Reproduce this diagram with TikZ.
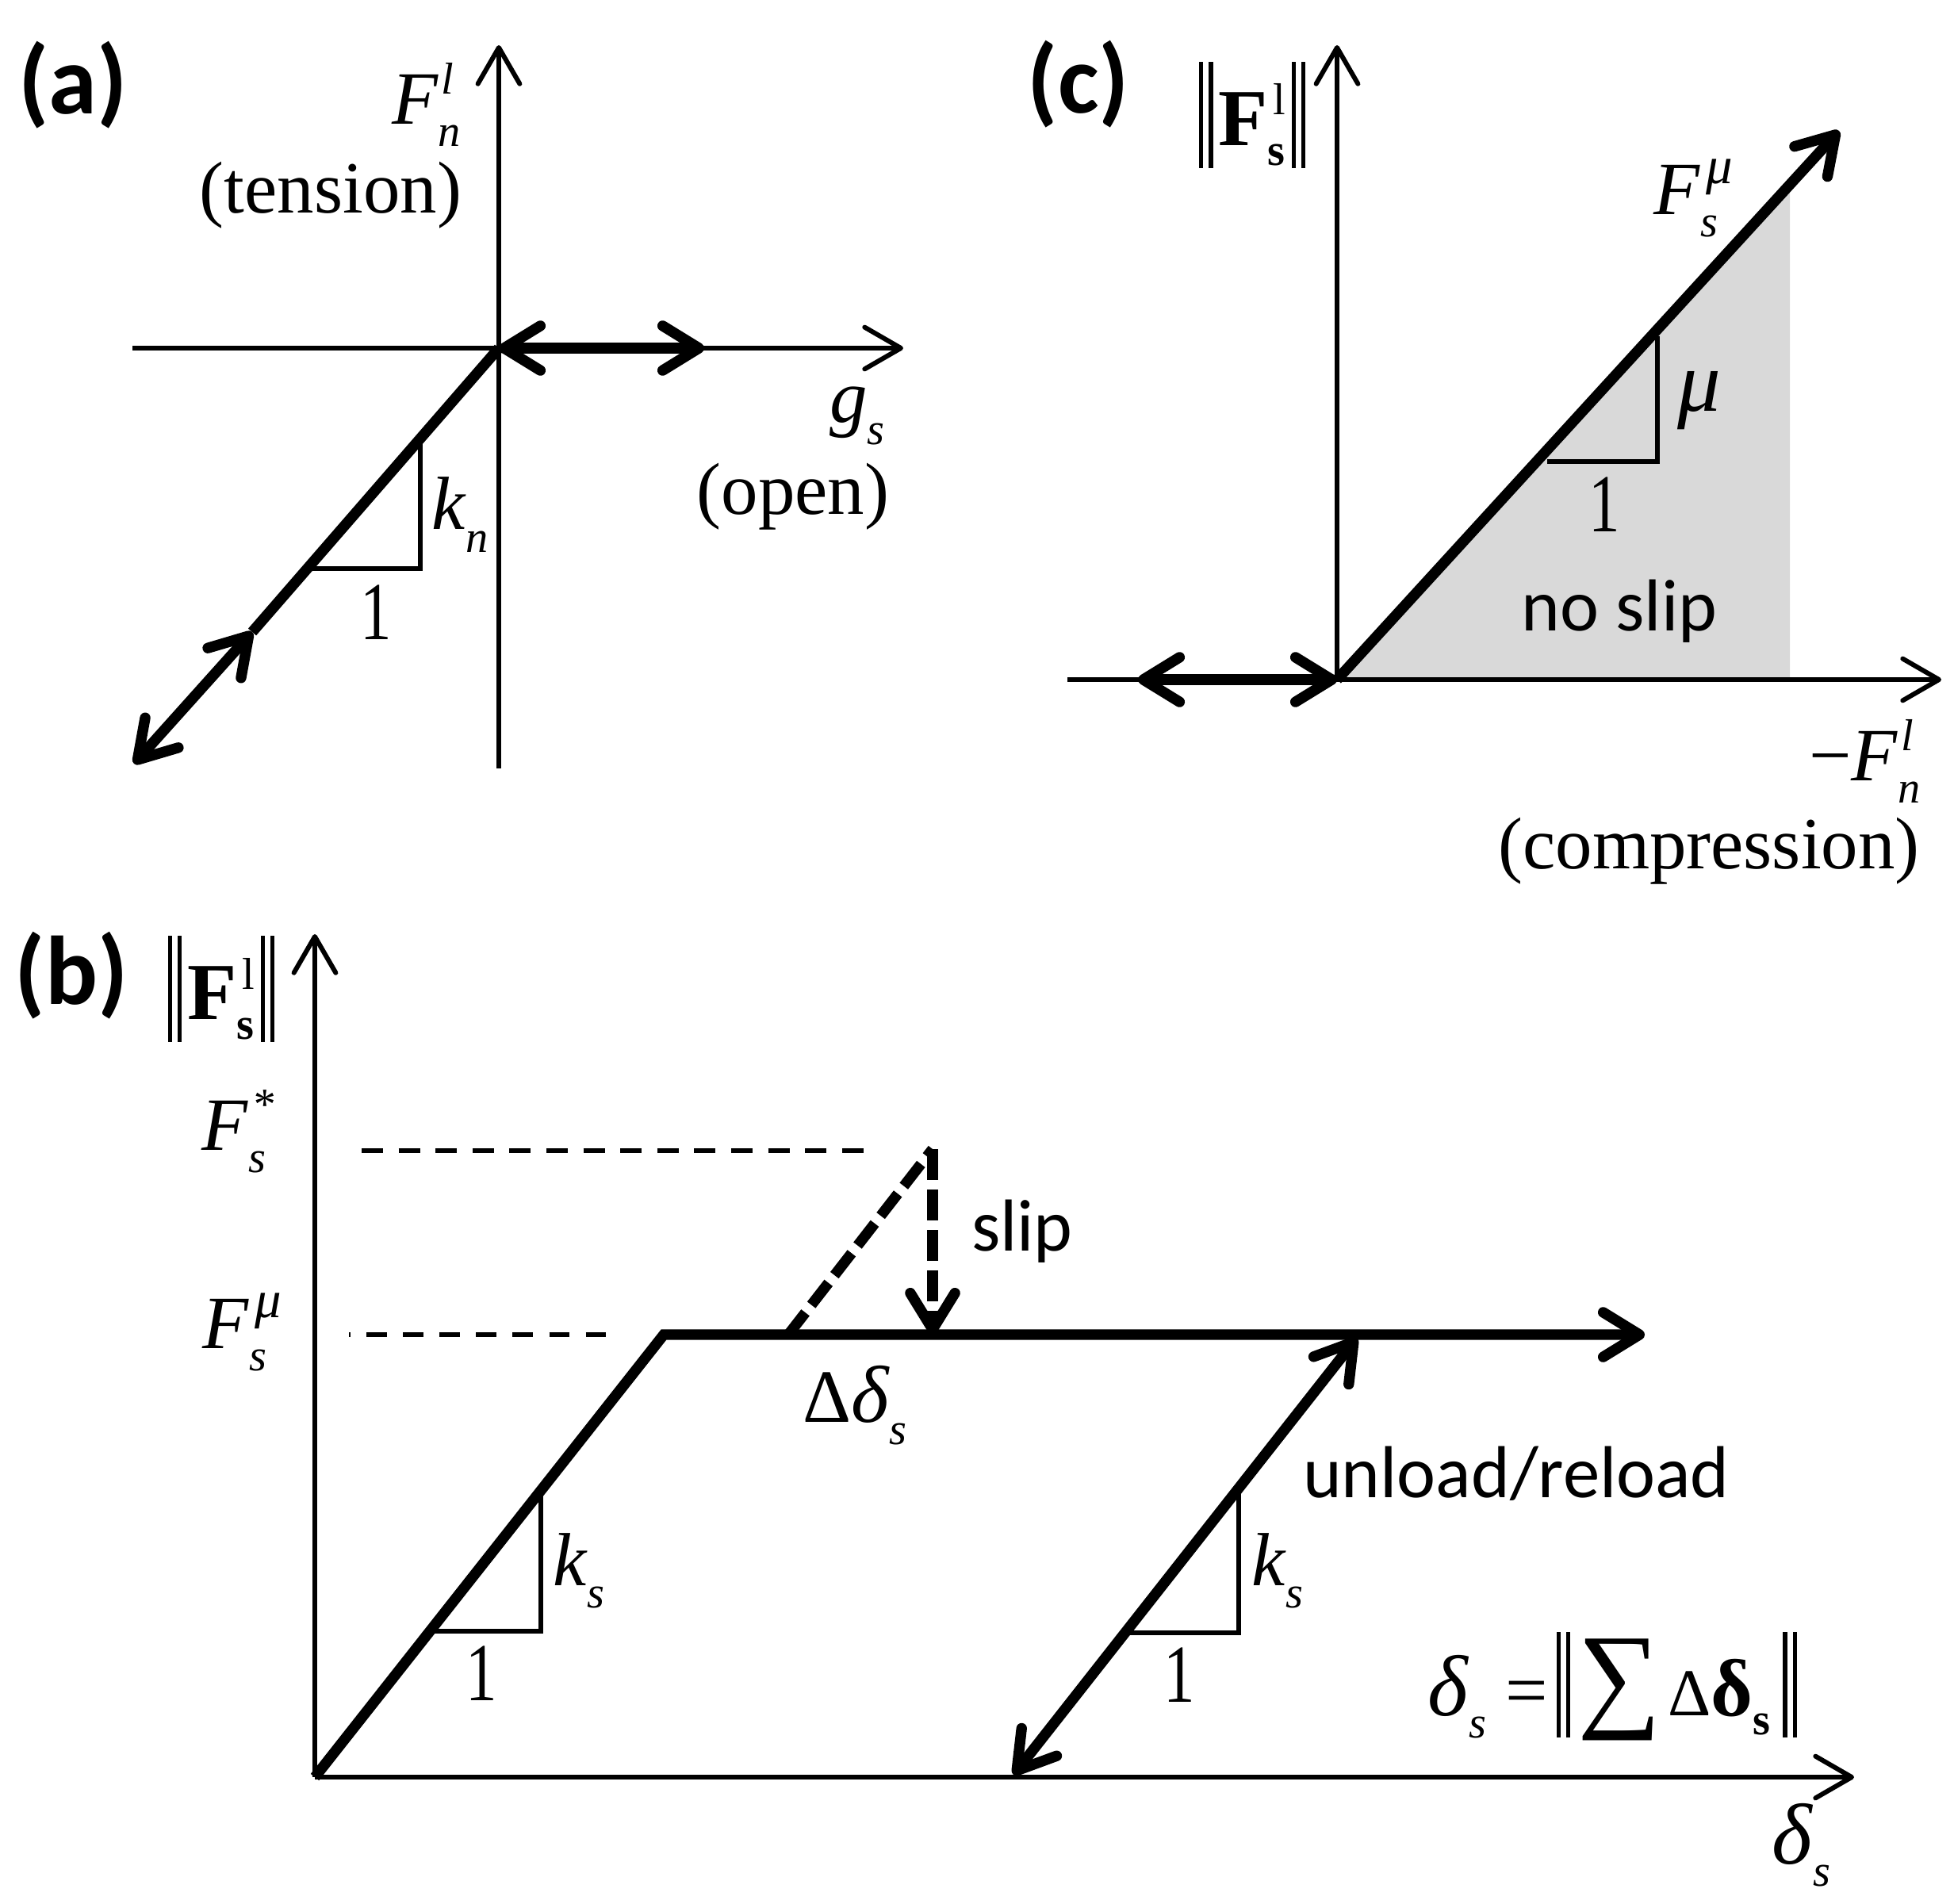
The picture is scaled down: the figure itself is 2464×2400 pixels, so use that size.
\documentclass[tikz,border=0pt]{standalone}
\usepackage{fontspec}
\setmainfont{Liberation Serif}
\newfontfamily\calibri{Carlito}
\usetikzlibrary{arrows.meta}

% letter with a subscript and a superscript
\newcommand{\smallscript}[1]{{\fontsize{16}{16}\selectfont #1}}
\newcommand{\scripts}[3]{\textit{#1}\rlap{\raisebox{-8pt}{\smallscript{\textit{#2}}}}\raisebox{11pt}{\kern1pt\smallscript{\textit{#3}}}}
\newcommand{\muscripts}{\textit{F}\rlap{\raisebox{-8pt}{\smallscript{\textit{s}}}}\raisebox{11pt}{\kern2pt{\fontsize{19}{19}\selectfont\textit{μ}}}}
\newcommand{\normbars}{\rule[-8pt]{1.5pt}{38pt}\kern2pt\rule[-8pt]{1.5pt}{38pt}}
\newcommand{\normF}{\normbars\kern2pt{\fontsize{29}{30}\selectfont\textbf{F}}\rlap{\raisebox{-7pt}{\smallscript{\textbf{s}}}}\raisebox{11pt}{\kern2pt\smallscript{l}}\kern2pt\normbars}
\newcommand{\slope}{\scalebox{.85}[1.12]{1}}
\newcommand{\bigdelta}{{\fontsize{31}{31}\selectfont\textit{δ}}}

\begin{document}
\begin{tikzpicture}[
        x=0.01cm,y=-0.01cm,
        panel/.style={inner sep=0pt,font=\calibri\bfseries\fontsize{35}{38}\selectfont},
        sans/.style={inner sep=0pt,font=\calibri\fontsize{26.4}{30}\selectfont},
        serif/.style={inner sep=0pt,font=\fontsize{26.4}{30}\selectfont},
        symb/.style={inner sep=0pt,font=\fontsize{27}{30}\selectfont},
        thin line/.style={line width=1.7pt},
        thick line/.style={line width=3.8pt},
        axis/.style={thin line,-{Straight Barb[length=13pt,width=15pt,round]}},
        load/.style={thick line,>={Straight Barb[length=13pt,width=16pt,round]}},
    ]
    \useasboundingbox (0,0) rectangle (2464,2400);

    % (a)
    \coordinate (aO) at (629,439);
    \coordinate (aL) at (167,439);
    \coordinate (aR) at (1139,439);
    \coordinate (aT) at (629,57);
    \coordinate (aB) at (629,969);
    \coordinate (aOpen) at (888,439);
    \coordinate (aMid) at (318,797);
    \coordinate (aEnd) at (169,963);
    \coordinate (aTop) at (530,556);
    \coordinate (aCor) at (530,717);
    \coordinate (aLeft) at (390,717);
    \draw[thin line] (aL) -- (aO);
    \draw[axis] (aO) -- (aR);
    \draw[axis] (aB) -- (aT);
    \draw[thin line] (aTop) -- (aCor) -- (aLeft);
    \draw[load,<->] (aO) -- (aOpen);
    \draw[load] (aO) -- (aMid);
    \draw[load,<->] (aEnd) -- (aMid);
    \node[panel] (labela) at (92,107) {(a)};
    \node[symb] (Fn) at (533,132) {\scripts{F}{n}{l}};
    \node[serif] (tension) at (417,246) {(tension)};
    \node[symb] (gs) at (1081,524) {\textit{g}\raisebox{-8pt}{\smallscript{\textit{s}}}};
    \node[serif] (open) at (1000,626) {(open)};
    \node[symb] (kn) at (580,649) {\textit{k}\raisebox{-8pt}{\smallscript{\textit{n}}}};
    \node[serif] (onea) at (474,772) {\slope};

    % (c)
    \coordinate (cO) at (1686,857);
    \coordinate (cL) at (1346,857);
    \coordinate (cR) at (2448,857);
    \coordinate (cT) at (1686,57);
    \coordinate (cEnd) at (2319,165);
    \coordinate (cShadeB) at (2257,857);
    \coordinate (cShadeT) at (2257,238);
    \coordinate (cOpen) at (1435,857);
    \coordinate (cTop) at (2090,424);
    \coordinate (cCor) at (2090,582);
    \coordinate (cLeft) at (1951,582);
    \fill[gray!30] (cO) -- (cShadeT) -- (cShadeB) -- cycle;
    \draw[axis] (cL) -- (cR);
    \draw[axis] (cO) -- (cT);
    \draw[thin line] (cTop) -- (cCor) -- (cLeft);
    \draw[load,<->] (cOpen) -- (cO);
    \draw[load,->] (cO) -- (cEnd);
    \node[panel] (labelc) at (1360,106) {(c)};
    \node[symb] (Fc) at (1579,145) {\normF};
    \node[symb] (Fmuc) at (2135,250) {\muscripts};
    \node[symb] (muc) at (2143,505) {\fontsize{31}{31}\selectfont\textit{μ}};
    \node[serif] (onec) at (2023,636) {\slope};
    \node[sans] (noslip) at (2042,771) {no slip};
    \node[symb] (Fnc) at (2347,960) {−\scripts{F}{n}{l}};
    \node[serif] (compression) at (2155,1073) {(compression)};

    % (b)
    \coordinate (bO) at (397,2241);
    \coordinate (bR) at (2338,2241);
    \coordinate (bT) at (397,1178);
    \coordinate (bCor) at (837,1683);
    \coordinate (bEnd) at (2074,1683);
    \coordinate (bPeak) at (1176,1449);
    \coordinate (bSlip) at (994,1683);
    \coordinate (bDrop) at (1176,1683);
    \coordinate (bUp) at (1711,1687);
    \coordinate (bDown) at (1278,2238);
    \coordinate (bTopA) at (682,1885);
    \coordinate (bCorA) at (682,2057);
    \coordinate (bLeftA) at (546,2057);
    \coordinate (bTopB) at (1562,1883);
    \coordinate (bCorB) at (1562,2059);
    \coordinate (bLeftB) at (1425,2059);
    \coordinate (bStarL) at (456,1451);
    \coordinate (bStarR) at (1097,1451);
    \coordinate (bMuL) at (440,1683);
    \coordinate (bMuR) at (774,1683);
    \draw[axis] (bO) -- (bR);
    \draw[axis] (bO) -- (bT);
    \draw[thin line,dash pattern=on 7.7pt off 5.55pt] (bStarL) -- (bStarR);
    \draw[thin line,dash pattern=on 7.3pt off 5.8pt,dash phase=6.8pt] (bMuL) -- (bMuR);
    \draw[thin line] (bTopA) -- (bCorA) -- (bLeftA);
    \draw[thin line] (bTopB) -- (bCorB) -- (bLeftB);
    \draw[load,->] (bO) -- (bCor) -- (bEnd);
    \draw[load,<->] (bDown) -- (bUp);
    \draw[load,dash pattern=on 10pt off 3.5pt] (bSlip) -- (bPeak);
    \draw[load,dash pattern=on 11pt off 3.5pt,->] (bPeak) -- (bDrop);
    \node[panel] (labelb) at (90,1230) {(b)};
    \node[symb] (Fb) at (279,1247) {\normF};
    \node[symb] (Fstar) at (300,1427) {\scripts{F}{s}{*}};
    \node[symb] (Fmub) at (305,1680) {\muscripts};
    \node[sans] (slip) at (1289,1553) {slip};
    \node[symb] (dds) at (1078,1772) {Δ{\fontsize{29}{29}\selectfont\textit{δ}}\raisebox{-8pt}{\smallscript{\textit{s}}}};
    \node[symb] (ksa) at (730,1981) {\textit{k}\raisebox{-8pt}{\smallscript{\textit{s}}}};
    \node[serif] (oneb) at (607,2110) {\slope};
    \node[sans] (unload) at (1912,1858) {unload/reload};
    \node[symb] (ksb) at (1611,1981) {\textit{k}\raisebox{-8pt}{\smallscript{\textit{s}}}};
    \node[serif] (oneB) at (1487,2112) {\slope};
    \node[symb] (total) at (2033,2126) {\bigdelta\raisebox{-8pt}{\smallscript{\textit{s}}}\kern7pt=\kern3pt\normbars\kern2.5pt\raisebox{0pt}{\fontsize{42}{42}\selectfont∑}\kern2.5pt{\fontsize{24}{24}\selectfont Δ}{\fontsize{29}{29}\selectfont\textbf{δ}}\raisebox{-7pt}{\smallscript{\textbf{s}}}\kern4.5pt\normbars};
    \node[symb] (ds) at (2271,2327) {\bigdelta\raisebox{-8pt}{\smallscript{\textit{s}}}};
    \end{tikzpicture}
\end{document}
